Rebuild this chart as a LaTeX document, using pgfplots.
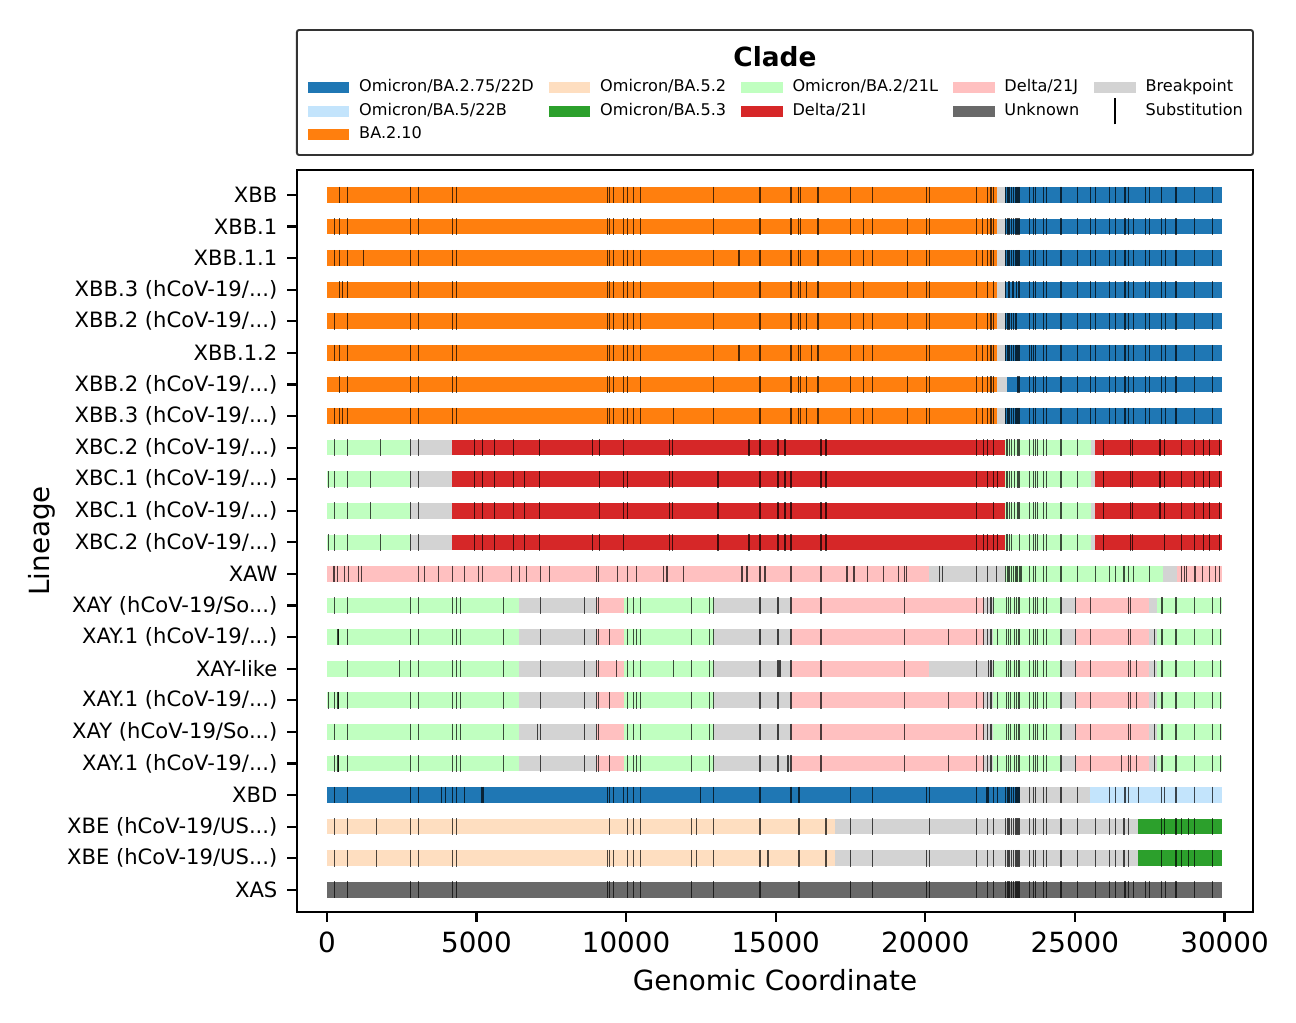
\documentclass[border=0pt]{standalone}
\usepackage{fontspec}
\setmainfont{DejaVu Sans}
\usepackage{pgfplots}
\usepackage{pgfplotstable}
\pgfplotsset{compat=1.18}

\definecolor{cBA275}{RGB}{31,119,180}
\definecolor{cBA5}{RGB}{195,228,252}
\definecolor{cBA210}{RGB}{255,127,14}
\definecolor{cBA52}{RGB}{254,222,192}
\definecolor{cBA53}{RGB}{44,160,44}
\definecolor{cBA2}{RGB}{192,255,192}
\definecolor{cDI}{RGB}{214,39,40}
\definecolor{cDJ}{RGB}{255,192,192}
\definecolor{cBrk}{RGB}{211,211,211}
\definecolor{cUnk}{RGB}{105,105,105}

% segments: start x, row y, length u
\pgfplotstableread{
x y u
0 0 22400
0 1 22400
0 2 22400
0 3 22400
0 4 22400
0 5 22400
0 6 22400
0 7 22400
}\tBAten

\pgfplotstableread{
x y u
22666 0 7237
22666 1 7237
22666 2 7237
22666 3 7237
22666 4 7237
22666 5 7237
22730 6 7173
22666 7 7237
0 19 23157
}\tBAsevfive

\pgfplotstableread{
x y u
25512 19 4391
}\tBAfive

\pgfplotstableread{
x y u
0 20 16975
0 21 16975
}\tBAfivetwo

\pgfplotstableread{
x y u
27119 20 2784
27119 21 2784
}\tBAfivethree

\pgfplotstableread{
x y u
0 8 2790
0 9 2790
0 10 2790
0 11 2790
22666 8 2879
22666 9 2879
22666 10 2879
22666 11 2879
22666 12 5267
0 13 6428
0 14 6428
0 15 6428
0 16 6428
0 17 6428
0 18 6428
9922 13 3012
9922 14 3012
9922 15 3012
9922 16 3012
9922 17 3012
9922 18 3012
22274 13 2263
22274 14 2263
22274 15 2263
22274 16 2263
22274 17 2263
22274 18 2263
27732 13 2171
27732 14 2171
27732 15 2171
27732 16 2171
27732 17 2171
27732 18 2171
}\tBAtwo

\pgfplotstableread{
x y u
4180 8 18486
4180 9 18486
4180 10 18486
4180 11 18486
25679 8 4224
25679 9 4224
25679 10 4224
25679 11 4224
}\tDeltaI

\pgfplotstableread{
x y u
0 12 20110
28402 12 1501
9017 13 905
9017 14 905
9017 15 905
9017 16 905
9017 17 905
9017 18 905
15512 13 6438
15512 14 6438
15512 15 4598
15512 16 6438
15512 17 6438
15512 18 6438
25027 13 2449
25027 14 2449
25027 15 2449
25027 16 2449
25027 17 2449
25027 18 2449
}\tDeltaJ

\pgfplotstableread{
x y u
22400 0 266
22400 1 266
22400 2 266
22400 3 266
22400 4 266
22400 5 266
22400 6 330
22400 7 266
2790 8 1390
2790 9 1390
2790 10 1390
2790 11 1390
25545 8 134
25545 9 134
25545 10 134
25545 11 134
20110 12 2556
27933 12 469
6428 13 2589
6428 14 2589
6428 15 2589
6428 16 2589
6428 17 2589
6428 18 2589
12934 13 2578
12934 14 2578
12934 15 2578
12934 16 2578
12934 17 2578
12934 18 2578
21950 13 324
21950 14 324
20110 15 2164
21950 16 324
21950 17 324
21950 18 324
24537 13 490
24537 14 490
24537 15 490
24537 16 490
24537 17 490
24537 18 490
27476 13 256
27476 14 256
27476 15 256
27476 16 256
27476 17 256
27476 18 256
23157 19 2355
16975 20 10144
16975 21 10144
}\tBreak

\pgfplotstableread{
x y u
0 22 29903
}\tUnknown

\pgfplotsset{
  seg/.style={quiver={u=\thisrow{u}, v=0}, line width=5.65pt, no markers, forget plot},
  sub/.style={only marks, mark=|, mark size=3pt, black, opacity=0.7,
    mark options={line width=0.45pt}, forget plot},
  lbar/.style={legend image code/.code={\draw[line width=3.8pt,##1] (0pt,0pt) -- (15pt,0pt);}},
}

\begin{document}
\begin{tikzpicture}
\begin{axis}[
  name=ax,
  scale only axis,
  width=344.2pt, height=267.1pt,
  xmin=-1000, xmax=30950,
  ymin=-0.79, ymax=22.70,
  y dir=reverse,
  axis line style={line width=0.8pt},
  tick pos=left,
  tick align=outside,
  major tick length=3.5pt,
  every tick/.style={black, line width=0.8pt},
  xtick={0,5000,10000,15000,20000,25000,30000},
  scaled x ticks=false,
  /pgf/number format/assume math mode=true,
  /pgf/number format/set thousands separator={},
  xticklabel style={font=\fontsize{10}{12}\selectfont},
  ytick={0,1,...,22},
  yticklabels={{XBB}, {XBB.1}, {XBB.1.1}, {XBB.3 (hCoV-19/.{}.{}.)}, {XBB.2 (hCoV-19/.{}.{}.)}, {XBB.1.2},
    {XBB.2 (hCoV-19/.{}.{}.)}, {XBB.3 (hCoV-19/.{}.{}.)}, {XBC.2 (hCoV-19/.{}.{}.)}, {XBC.1 (hCoV-19/.{}.{}.)},
    {XBC.1 (hCoV-19/.{}.{}.)}, {XBC.2 (hCoV-19/.{}.{}.)}, {XAW}, {XAY (hCoV-19/So.{}.{}.)}, {XAY.1 (hCoV-19/.{}.{}.)},
    {XAY-like}, {XAY.1 (hCoV-19/.{}.{}.)}, {XAY (hCoV-19/So.{}.{}.)}, {XAY.1 (hCoV-19/.{}.{}.)}, {XBD},
    {XBE (hCoV-19/US.{}.{}.)}, {XBE (hCoV-19/US.{}.{}.)}, {XAS}},
  yticklabel style={font=\fontsize{7.6}{9}\selectfont},
  xlabel={Genomic Coordinate},
  ylabel={Lineage},
  label style={font=\fontsize{10}{12}\selectfont},
  xlabel style={at={(axis description cs:0.5,-0.0916)}, anchor=center},
  ylabel style={at={(axis description cs:-0.2667,0.5)}, anchor=center},
  legend columns=5,
  legend cell align=left,
  legend style={draw=none, fill=none, at={(0.5,1)}, anchor=center, yshift=21.2pt,
    font=\fontsize{5.8}{7}\selectfont, row sep=0pt,
    nodes={inner xsep=1.6pt, inner ysep=1.3pt},
    /tikz/every even column/.append style={column sep=1.9pt}},
]
\addplot[seg, draw=cBA210] table {\tBAten};
\addplot[seg, draw=cBA275] table {\tBAsevfive};
\addplot[seg, draw=cBA5] table {\tBAfive};
\addplot[seg, draw=cBA52] table {\tBAfivetwo};
\addplot[seg, draw=cBA53] table {\tBAfivethree};
\addplot[seg, draw=cBA2] table {\tBAtwo};
\addplot[seg, draw=cDI] table {\tDeltaI};
\addplot[seg, draw=cDJ] table {\tDeltaJ};
\addplot[seg, draw=cBrk] table {\tBreak};
\addplot[seg, draw=cUnk] table {\tUnknown};

% substitutions, one row each
\addplot[sub] coordinates {(413,0)(681,0)(2790,0)(3058,0)(4196,0)(4330,0)(9375,0)(9453,0)(9587,0)(9922,0)(10056,0)(10257,0)(10491,0)(12934,0)(14475,0)(15512,0)(15760,0)(15820,0)(16416,0)(17488,0)(18224,0)(20033,0)(20133,0)(21705,0)(22073,0)(22197,0)(22274,0)
(22680,0)(22740,0)(22800,0)(22870,0)(22950,0)(23030,0)(23090,0)(23120,0)(23150,0)
(23486,0)(23620,0)(23687,0)(23955,0)(24055,0)(24520,0)(24560,0)(25094,0)(25529,0)(25679,0)(26158,0)(26359,0)(26671,0)(26794,0)(27363,0)(27497,0)(27899,0)(28360,0)(28400,0)(29004,0)(29607,0)};
\addplot[sub] coordinates {(245,1)(413,1)(681,1)(2790,1)(3058,1)(4196,1)(4330,1)(9375,1)(9453,1)(9587,1)(9922,1)(10056,1)(10257,1)(10491,1)(12934,1)(14475,1)(15512,1)(15760,1)(15820,1)(16416,1)(17488,1)(17923,1)(18224,1)(19396,1)(20033,1)(20133,1)(21705,1)(21906,1)(22073,1)(22197,1)(22274,1)
(22680,1)(22740,1)(22800,1)(22870,1)(22950,1)(23030,1)(23090,1)(23120,1)(23150,1)
(23486,1)(23620,1)(23687,1)(23955,1)(24055,1)(24520,1)(24560,1)(25094,1)(25529,1)(25679,1)(26158,1)(26359,1)(26671,1)(26794,1)(26961,1)(27363,1)(27497,1)(27899,1)(28033,1)(28360,1)(28400,1)(29004,1)(29607,1)};
\addplot[sub] coordinates {(245,2)(413,2)(681,2)(1216,2)(2790,2)(3058,2)(4196,2)(4330,2)(9375,2)(9453,2)(9587,2)(9922,2)(10056,2)(10257,2)(10491,2)(12934,2)(13771,2)(14475,2)(15512,2)(15760,2)(15820,2)(16416,2)(17488,2)(17923,2)(18224,2)(19396,2)(20033,2)(20133,2)(21705,2)(21906,2)(22073,2)(22197,2)(22274,2)
(22680,2)(22740,2)(22800,2)(22870,2)(22950,2)(23030,2)(23090,2)(23120,2)(23150,2)
(23486,2)(23620,2)(23687,2)(23955,2)(24055,2)(24520,2)(24560,2)(25094,2)(25529,2)(25679,2)(26158,2)(26359,2)(26671,2)(26794,2)(26961,2)(27363,2)(27497,2)(27899,2)(28033,2)(28360,2)(28400,2)(29004,2)(29607,2)};
\addplot[sub] coordinates {(413,3)(513,3)(681,3)(2790,3)(3058,3)(4196,3)(4330,3)(9375,3)(9453,3)(9587,3)(9922,3)(10056,3)(10257,3)(10491,3)(12934,3)(14475,3)(15512,3)(15760,3)(15820,3)(16026,3)(16416,3)(17488,3)(17923,3)(19396,3)(20033,3)(20133,3)(21705,3)(22073,3)(22274,3)
(22690,3)(22800,3)(22930,3)(23060,3)(23120,3)(23150,3)
(23486,3)(23620,3)(23687,3)(23955,3)(24055,3)(24520,3)(24560,3)(25094,3)(25529,3)(25679,3)(26158,3)(26359,3)(26671,3)(26794,3)(26961,3)(27363,3)(27497,3)(27899,3)(28033,3)(28360,3)(28400,3)(29004,3)(29607,3)};
\addplot[sub] coordinates {(245,4)(681,4)(2790,4)(3058,4)(4196,4)(4330,4)(9375,4)(9453,4)(9587,4)(9922,4)(10056,4)(10257,4)(10491,4)(12934,4)(14475,4)(15512,4)(15760,4)(15820,4)(16026,4)(16416,4)(17488,4)(17923,4)(18224,4)(19396,4)(20033,4)(20133,4)(21705,4)(22073,4)(22197,4)(22274,4)
(22680,4)(22740,4)(22800,4)(22870,4)(22950,4)(23030,4)
(23486,4)(23620,4)(23687,4)(23955,4)(24055,4)(24520,4)(24560,4)(25094,4)(25529,4)(25679,4)(26158,4)(26359,4)(26671,4)(26794,4)(26961,4)(27363,4)(27497,4)(27899,4)(28033,4)(28360,4)(28400,4)(29004,4)(29607,4)};
\addplot[sub] coordinates {(245,5)(413,5)(681,5)(2790,5)(3058,5)(4196,5)(4330,5)(9375,5)(9453,5)(9587,5)(9922,5)(10056,5)(10257,5)(10491,5)(12934,5)(13771,5)(14475,5)(15512,5)(15760,5)(15820,5)(16194,5)(16416,5)(17488,5)(17923,5)(18224,5)(20033,5)(20133,5)(21705,5)(21906,5)(22073,5)(22197,5)(22274,5)
(22680,5)(22740,5)(22800,5)(22870,5)(22950,5)(23030,5)(23090,5)(23120,5)(23150,5)
(23486,5)(23550,5)(23620,5)(23687,5)(23955,5)(24055,5)(24520,5)(24560,5)(25094,5)(25529,5)(25679,5)(26158,5)(26359,5)(26671,5)(26794,5)(26961,5)(27363,5)(27497,5)(27899,5)(28033,5)(28360,5)(28400,5)(29004,5)(29607,5)};
\addplot[sub] coordinates {(413,6)(681,6)(2790,6)(3058,6)(4196,6)(4330,6)(9375,6)(9453,6)(9587,6)(9922,6)(10056,6)(10491,6)(12934,6)(14475,6)(15512,6)(15760,6)(15820,6)(16026,6)(16416,6)(17488,6)(17923,6)(18224,6)(19396,6)(20033,6)(20133,6)(21705,6)(21906,6)(22073,6)(22197,6)(22274,6)
(23080,6)(23120,6)(23150,6)
(23486,6)(23620,6)(23687,6)(23955,6)(24055,6)(24520,6)(24560,6)(25094,6)(25529,6)(25679,6)(26158,6)(26359,6)(26671,6)(26794,6)(26961,6)(27363,6)(27497,6)(27899,6)(28033,6)(28360,6)(28400,6)(29004,6)(29607,6)};
\addplot[sub] coordinates {(245,7)(413,7)(513,7)(681,7)(2790,7)(3058,7)(4196,7)(4330,7)(9375,7)(9453,7)(9587,7)(9922,7)(10056,7)(10257,7)(10491,7)(11595,7)(12934,7)(14475,7)(15512,7)(15760,7)(15820,7)(16026,7)(16416,7)(17488,7)(17923,7)(18224,7)(19396,7)(20033,7)(20133,7)(21705,7)(21906,7)(22073,7)(22197,7)(22274,7)
(22680,7)(22740,7)(22800,7)(22870,7)(22950,7)(23030,7)(23090,7)(23120,7)(23150,7)
(23486,7)(23620,7)(23687,7)(23955,7)(24055,7)(24520,7)(24560,7)(25094,7)(25529,7)(25679,7)(26158,7)(26359,7)(26671,7)(26794,7)(26961,7)(27363,7)(27497,7)(27899,7)(28033,7)(28360,7)(28400,7)(29004,7)(29607,7)};
\addplot[sub] coordinates {(245,8)(681,8)(1786,8)(2790,8)(3058,8)(4933,8)(5201,8)(5603,8)(6239,8)(7110,8)(8884,8)(9119,8)(9922,8)(11462,8)(11563,8)(14107,8)(14475,8)(15078,8)(15311,8)(16516,8)(16684,8)(21705,8)(21939,8)(22073,8)(22274,8)
(22733,8)(22822,8)(22889,8)(22978,8)(23090,8)(23120,8)(23157,8)
(23486,8)(23620,8)(23687,8)(23754,8)(23955,8)(24055,8)(24537,8)(25094,8)
(25957,8)(26861,8)(26928,8)(27832,8)(27866,8)(28000,8)(28569,8)(29004,8)(29306,8)(29507,8)(29842,8)};
\addplot[sub] coordinates {(45,9)(245,9)(681,9)(1451,9)(2790,9)(3058,9)(4933,9)(5201,9)(5603,9)(6239,9)(6607,9)(7110,9)(9119,9)(9922,9)(10056,9)(11462,9)(11563,9)(13070,9)(14475,9)(15078,9)(15311,9)(15512,9)(16516,9)(16684,9)(21705,9)(22073,9)(22274,9)(22408,9)
(22733,9)(22822,9)(22889,9)(22978,9)(23090,9)(23120,9)(23157,9)
(23486,9)(23620,9)(23687,9)(23754,9)(23955,9)(24055,9)(24537,9)(25094,9)
(25957,9)(26861,9)(26928,9)(27832,9)(27866,9)(28000,9)(28569,9)(29004,9)(29306,9)(29507,9)(29842,9)};
\addplot[sub] coordinates {(245,10)(681,10)(1451,10)(2790,10)(3058,10)(4933,10)(5201,10)(5603,10)(6239,10)(6607,10)(7110,10)(9119,10)(9922,10)(10056,10)(11462,10)(11563,10)(13070,10)(14475,10)(15078,10)(15311,10)(15512,10)(16516,10)(16684,10)(21705,10)(22274,10)
(22733,10)(22822,10)(22889,10)(22978,10)(23090,10)(23120,10)(23157,10)
(23486,10)(23620,10)(23687,10)(23754,10)(23955,10)(24055,10)(24537,10)(25094,10)
(25957,10)(26861,10)(26928,10)(27832,10)(27866,10)(28000,10)(28569,10)(29004,10)(29306,10)(29507,10)(29842,10)};
\addplot[sub] coordinates {(45,11)(245,11)(681,11)(1786,11)(2790,11)(3058,11)(4933,11)(5201,11)(5603,11)(6239,11)(6607,11)(7110,11)(8884,11)(9119,11)(9922,11)(11462,11)(11563,11)(13070,11)(14107,11)(14475,11)(15078,11)(15311,11)(15512,11)(16516,11)(16684,11)(21705,11)(21939,11)(22073,11)(22274,11)(22408,11)
(22733,11)(22822,11)(22889,11)(23157,11)
(23486,11)(23620,11)(23687,11)(23754,11)(23955,11)(24055,11)(24537,11)(25094,11)
(25957,11)(26861,11)(26928,11)(28000,11)(28569,11)(29004,11)(29306,11)(29507,11)(29842,11)};
\addplot[sub] coordinates {(212,12)(245,12)(346,12)(580,12)(714,12)(1049,12)(1150,12)(3058,12)(3259,12)(3728,12)(4196,12)(4598,12)(5067,12)(5201,12)(6172,12)(6440,12)(6674,12)(7143,12)(7444,12)(9017,12)(9084,12)(9721,12)(10056,12)(10357,12)(11261,12)(11361,12)(11395,12)(11930,12)(13871,12)(14039,12)(14475,12)(14642,12)(15512,12)(16516,12)(17386,12)(17621,12)(18056,12)(18592,12)(19094,12)(19295,12)(19362,12)(20467,12)(20567,12)(21705,12)(22073,12)(22374,12)
(22680,12)(22740,12)(22800,12)(22870,12)(22950,12)(23030,12)(23090,12)(23150,12)(23200,12)
(23486,12)(23620,12)(23687,12)(23955,12)(24055,12)(24537,12)(25094,12)(25690,12)(26158,12)(26359,12)(26638,12)(26794,12)(26961,12)(27497,12)(28569,12)(28670,12)(28737,12)(28990,12)(29030,12)(29272,12)(29507,12)(29707,12)(29842,12)};
\addplot[sub] coordinates {(245,13)(681,13)(2790,13)(3058,13)(4196,13)(4330,13)(4464,13)(5904,13)(7143,13)(8615,13)(9017,13)(9084,13)(10056,13)(10257,13)(10491,13)(12197,13)(12800,13)(12934,13)(14475,13)(15078,13)(15512,13)(16516,13)(19295,13)(21705,13)(21939,13)(22073,13)(22197,13)(22274,13)
(22710,13)(22780,13)(22850,13)(22978,13)(23040,13)(23110,13)(23157,13)
(23486,13)(23620,13)(23687,13)(23754,13)(23955,13)(24055,13)(24537,13)(25027,13)(25521,13)(26794,13)(26861,13)(27910,13)(28380,13)(29004,13)(29607,13)(29874,13)};
\addplot[sub] coordinates {(370,14)(400,14)(681,14)(2790,14)(3058,14)(4196,14)(4330,14)(4464,14)(5904,14)(7143,14)(8615,14)(9017,14)(9084,14)(9453,14)(10056,14)(10257,14)(10357,14)(10491,14)(12197,14)(12800,14)(12934,14)(14475,14)(15078,14)(15512,14)(16516,14)(19295,14)(20768,14)(21705,14)(21939,14)(22073,14)(22197,14)(22408,14)
(22710,14)(22780,14)(22850,14)(22978,14)(23040,14)(23110,14)(23157,14)
(23486,14)(23620,14)(23687,14)(23754,14)(23955,14)(24055,14)(24537,14)(25027,14)(25521,14)(26794,14)(26861,14)(27665,14)(27910,14)(28380,14)(29004,14)(29607,14)(29874,14)};
\addplot[sub] coordinates {(681,15)(2421,15)(2790,15)(3058,15)(4196,15)(4330,15)(4464,15)(5904,15)(7143,15)(8615,15)(9017,15)(9084,15)(9687,15)(10056,15)(10257,15)(10491,15)(11595,15)(12197,15)(12800,15)(12934,15)(14475,15)(15078,15)(15145,15)(15512,15)(16516,15)(19295,15)(21705,15)(22100,15)(22197,15)(22274,15)
(22710,15)(22780,15)(22850,15)(22978,15)(23040,15)(23110,15)(23157,15)
(23486,15)(23620,15)(23687,15)(23754,15)(23955,15)(24055,15)(24537,15)(25027,15)(25521,15)(26794,15)(26861,15)(27062,15)(27665,15)(27910,15)(28380,15)(29004,15)(29607,15)(29874,15)};
\addplot[sub] coordinates {(45,16)(245,16)(370,16)(400,16)(681,16)(2790,16)(3058,16)(4196,16)(4330,16)(4464,16)(5904,16)(7143,16)(8615,16)(9017,16)(9084,16)(9453,16)(10056,16)(10257,16)(10357,16)(10491,16)(12197,16)(12800,16)(12934,16)(14475,16)(15078,16)(15512,16)(16516,16)(19295,16)(20768,16)(21705,16)(21939,16)(22073,16)(22197,16)(22408,16)
(22710,16)(22780,16)(22850,16)(22978,16)(23040,16)(23110,16)(23157,16)
(23486,16)(23620,16)(23687,16)(23754,16)(23955,16)(24055,16)(24537,16)(25027,16)(25521,16)(26794,16)(26861,16)(27062,16)(27665,16)(27910,16)(28380,16)(29004,16)(29607,16)(29874,16)};
\addplot[sub] coordinates {(245,17)(681,17)(2790,17)(3058,17)(4196,17)(4330,17)(4464,17)(5904,17)(7042,17)(7143,17)(8615,17)(9017,17)(9084,17)(10056,17)(10257,17)(10491,17)(12197,17)(12800,17)(12934,17)(14475,17)(15078,17)(15512,17)(16516,17)(19295,17)(21705,17)(21939,17)(22073,17)(22197,17)
(22710,17)(22780,17)(22850,17)(22978,17)(23040,17)(23110,17)(23157,17)
(23486,17)(23620,17)(23687,17)(23754,17)(23955,17)(24055,17)(24537,17)(25027,17)(25521,17)(26794,17)(26861,17)(27665,17)(27910,17)(28380,17)(29004,17)(29607,17)(29874,17)};
\addplot[sub] coordinates {(245,18)(370,18)(400,18)(681,18)(2790,18)(3058,18)(4196,18)(4330,18)(4464,18)(5904,18)(7143,18)(8615,18)(9017,18)(9084,18)(9453,18)(10056,18)(10257,18)(10357,18)(10491,18)(12197,18)(12800,18)(12934,18)(14475,18)(15078,18)(15412,18)(15512,18)(16516,18)(19295,18)(20768,18)(21705,18)(21939,18)(22073,18)(22197,18)(22408,18)
(22710,18)(22780,18)(22850,18)(22978,18)(23040,18)(23110,18)(23157,18)
(23486,18)(23620,18)(23687,18)(23754,18)(23955,18)(24055,18)(24537,18)(25027,18)(25521,18)(26560,18)(26794,18)(26861,18)(27062,18)(27665,18)(27910,18)(28380,18)(29004,18)(29607,18)(29874,18)};
\addplot[sub] coordinates {(245,19)(681,19)(2790,19)(3058,19)(3827,19)(3961,19)(4196,19)(4330,19)(4598,19)(5180,19)(5220,19)(9375,19)(9453,19)(9587,19)(9922,19)(10056,19)(10257,19)(10491,19)(12498,19)(12934,19)(14475,19)(15512,19)(15779,19)(17488,19)(18224,19)(20033,19)(20133,19)(21705,19)(22060,19)(22100,19)(22274,19)(22408,19)
(22680,19)(22740,19)(22800,19)(22870,19)(22950,19)(23030,19)(23090,19)(23120,19)(23150,19)
(23486,19)(23620,19)(23687,19)(23955,19)(24055,19)(24537,19)(25094,19)(26158,19)(26359,19)(26671,19)(26794,19)(27130,19)(27899,19)(28000,19)(28360,19)(28400,19)(29004,19)(29607,19)};
\addplot[sub] coordinates {(245,20)(681,20)(1652,20)(2790,20)(3058,20)(4196,20)(4330,20)(9453,20)(10056,20)(10257,20)(10491,20)(12197,20)(12365,20)(12934,20)(14475,20)(15779,20)(16684,20)(17488,20)(18224,20)(20133,20)(21705,20)(22073,20)(22274,20)
(22680,20)(22740,20)(22800,20)(22870,20)(22950,20)(23030,20)(23090,20)(23120,20)(23150,20)
(23486,20)(23620,20)(23687,20)(23955,20)(24055,20)(24537,20)(25094,20)(25690,20)(26158,20)(26359,20)(26638,20)(26794,20)(27899,20)(28000,20)(28380,20)(28569,20)(28803,20)(29004,20)(29607,20)};
\addplot[sub] coordinates {(245,21)(681,21)(1652,21)(2790,21)(3058,21)(4196,21)(4330,21)(9375,21)(9453,21)(9587,21)(10056,21)(10257,21)(10491,21)(12197,21)(12365,21)(12934,21)(14475,21)(14742,21)(15779,21)(16684,21)(17488,21)(18224,21)(20033,21)(20133,21)(21705,21)(22073,21)(22274,21)
(22680,21)(22740,21)(22800,21)(22870,21)(22950,21)(23030,21)(23090,21)(23120,21)(23150,21)
(23486,21)(23620,21)(23687,21)(23955,21)(24055,21)(24537,21)(25094,21)(25690,21)(26158,21)(26359,21)(26638,21)(26794,21)(27899,21)(28380,21)(28569,21)(28803,21)(29004,21)(29607,21)};
\addplot[sub] coordinates {(245,22)(681,22)(2790,22)(3058,22)(4196,22)(4330,22)(9375,22)(9453,22)(9587,22)(10056,22)(10257,22)(10491,22)(12197,22)(12934,22)(14475,22)(15779,22)(17488,22)(18224,22)(20033,22)(20133,22)(21705,22)(22073,22)(22274,22)
(22680,22)(22740,22)(22800,22)(22870,22)(22950,22)(23030,22)(23090,22)(23120,22)(23150,22)
(23486,22)(23620,22)(23687,22)(23955,22)(24055,22)(24537,22)(25094,22)(25690,22)(26158,22)(26359,22)(26671,22)(26794,22)(26961,22)(27363,22)(27497,22)(27899,22)(28033,22)(28380,22)(29004,22)(29607,22)};

% legend, filled row by row
\addlegendimage{lbar, draw=cBA275}\addlegendentry{Omicron/BA.2.75/22D}
\addlegendimage{lbar, draw=cBA52}\addlegendentry{Omicron/BA.5.2}
\addlegendimage{lbar, draw=cBA2}\addlegendentry{Omicron/BA.2/21L}
\addlegendimage{lbar, draw=cDJ}\addlegendentry{Delta/21J}
\addlegendimage{lbar, draw=cBrk}\addlegendentry{Breakpoint}
\addlegendimage{lbar, draw=cBA5}\addlegendentry{Omicron/BA.5/22B}
\addlegendimage{lbar, draw=cBA53}\addlegendentry{Omicron/BA.5.3}
\addlegendimage{lbar, draw=cDI}\addlegendentry{Delta/21I}
\addlegendimage{lbar, draw=cUnk}\addlegendentry{Unknown}
\addlegendimage{legend image code/.code={\draw[black, line width=0.8pt] (7.5pt,-1.9pt) -- (7.5pt,1.9pt); \draw[overlay, black, line width=0.8pt] (7.5pt,-4.7pt) -- (7.5pt,4.7pt);}}\addlegendentry{Substitution}
\addlegendimage{lbar, draw=cBA210}\addlegendentry{BA.2.10}
\end{axis}
\draw[line width=0.7pt, black!80, rounded corners=0.8pt] ([yshift=5.4pt]ax.north west) rectangle ([yshift=50.4pt]ax.north east);
\node[font=\bfseries\fontsize{9.5}{11}\selectfont] at ([yshift=40.7pt]ax.north) {Clade};
\path ([xshift=-106.9pt,yshift=-40pt]ax.south west) rectangle ([xshift=15.5pt,yshift=61.2pt]ax.north east);
\end{tikzpicture}
\end{document}
